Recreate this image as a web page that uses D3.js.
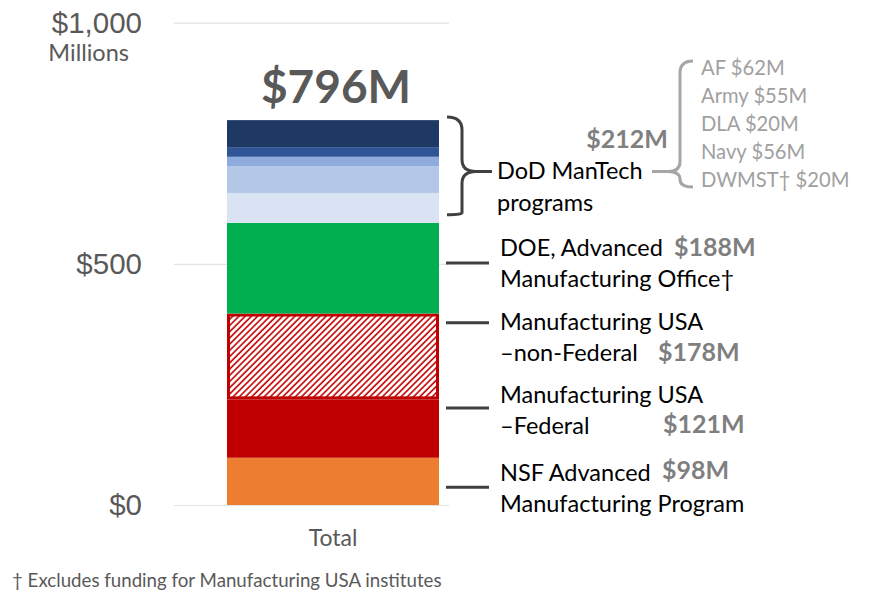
<!DOCTYPE html>
<html>
<head>
<meta charset="utf-8">
<script src="https://cdn.jsdelivr.net/npm/d3@7"></script>
<style>
  body { margin: 0; background: #fff; }
  svg { font-family: Lato, "Open Sans", sans-serif; }
</style>
</head>
<body>
<svg id="chart" width="872" height="606"></svg>
<script>
// data, bottom to top of the stack
const categories = ['Total'];
const segNames = ['NSF', 'MfgUSA Federal', 'MfgUSA non-Federal', 'DOE AMO', 'AF', 'Army', 'DLA', 'DWMST', 'Navy'];
const segValues = [98, 121, 178, 188, 62, 55, 20, 20, 56];
const segColors = ['#ed7d31', '#c00000', 'hatch', '#00b050', '#dae3f3', '#b4c7e7', '#8faadc', '#2f5597', '#203864'];
const yTicks = [0, 500, 1000];
const totalLabel = '$796M';

// DoD sub-programs as listed on the right
const dodItems = ['AF $62M', 'Army $55M', 'DLA $20M', 'Navy $56M', 'DWMST\u2020 $20M'];
const dodTotal = '$212M';

// main group labels: leader level (in $M), text lines, value text
const groups = [
  { at: 37, lines: ['NSF Advanced', 'Manufacturing Program'], value: '$98M', vx: 662, vline: 0, off: -14, voff: -3 },
  { at: 201, lines: ['Manufacturing USA', '\u2013Federal'], value: '$121M', vx: 663, vline: 1, off: -13, voff: -2 },
  { at: 378, lines: ['Manufacturing USA', '\u2013non-Federal'], value: '$178M', vx: 658, vline: 1, off: -1, voff: 0 },
  { at: 502, lines: ['DOE, Advanced', 'Manufacturing Office\u2020'], value: '$188M', vx: 674, vline: 0, off: -15, voff: -1 }
];

const svg = d3.select('#chart');

const y = d3.scaleLinear().domain([0, 1000]).range([505, 22.7]);
const x = d3.scaleBand().domain(categories).range([227, 439]).padding(0);

// hatch pattern for the non-Federal share
const defs = svg.append('defs');
defs.append('pattern')
  .attr('id', 'hatch')
  .attr('patternUnits', 'userSpaceOnUse')
  .attr('width', 4.4)
  .attr('height', 4.4)
  .attr('patternTransform', 'rotate(45)')
  .call(p => {
    p.append('rect').attr('width', 4.4).attr('height', 4.4).attr('fill', '#fff');
    p.append('line').attr('x1', 1).attr('x2', 1).attr('y1', 0).attr('y2', 4.4)
      .attr('stroke', '#c00000').attr('stroke-width', 1.6);
  });

// axis with gridlines
const axis = svg.append('g')
  .attr('transform', 'translate(174,0)')
  .call(d3.axisLeft(y).tickValues(yTicks).tickSize(-275).tickPadding(32)
    .tickFormat(d => '$' + d3.format(',')(d)));
axis.select('.domain').remove();
axis.selectAll('.tick line').attr('stroke', '#e3e3e3').attr('stroke-width', 1.2);
axis.selectAll('.tick text').attr('fill', '#595959').attr('font-size', 29.5).attr('dy', '0.33em');

svg.append('text')
  .attr('x', 129).attr('y', 61)
  .attr('text-anchor', 'end')
  .attr('fill', '#595959').attr('font-size', 23.5)
  .text('Millions');

// stacked segments
let acc = 0;
const stack = segValues.map((v, i) => {
  const s = { name: segNames[i], y0: acc, y1: acc + v, color: segColors[i] };
  acc += v;
  return s;
});

svg.append('g').selectAll('rect')
  .data(stack)
  .join('rect')
  .attr('x', d => d.color === 'hatch' ? x('Total') + 1.5 : x('Total'))
  .attr('width', d => d.color === 'hatch' ? x.bandwidth() - 3 : x.bandwidth())
  .attr('y', d => d.color === 'hatch' ? y(d.y1) + 1.5 : y(d.y1))
  .attr('height', d => (y(d.y0) - y(d.y1)) - (d.color === 'hatch' ? 3 : 0))
  .attr('fill', d => d.color === 'hatch' ? 'url(#hatch)' : d.color)
  .attr('stroke', d => d.color === 'hatch' ? '#c00000' : 'none')
  .attr('stroke-width', 3);

svg.append('text')
  .attr('x', x('Total') + x.bandwidth() / 2)
  .attr('y', 538)
  .attr('dy', '0.35em')
  .attr('text-anchor', 'middle')
  .attr('fill', '#595959').attr('font-size', 23)
  .text(categories[0]);

svg.append('text')
  .attr('x', x('Total') + x.bandwidth() / 2 + 3)
  .attr('y', y(acc) - 17)
  .attr('text-anchor', 'middle')
  .attr('fill', '#595959').attr('font-size', 46).attr('font-weight', 'bold')
  .text(totalLabel);

// group labels with leader lines
const lab = svg.append('g');
groups.forEach(g => {
  const ly = y(g.at);
  lab.append('line')
    .attr('x1', 446).attr('x2', 489).attr('y1', ly).attr('y2', ly)
    .attr('stroke', '#404040').attr('stroke-width', 3);
  const t0 = ly + g.off;
  g.lines.forEach((s, i) => {
    lab.append('text')
      .attr('x', 500).attr('y', t0 + i * 31)
      .attr('dy', '0.35em')
      .attr('fill', '#000').attr('font-size', 23.5)
      .text(s);
  });
  lab.append('text')
    .attr('x', g.vx).attr('y', t0 + g.vline * 31 + g.voff)
    .attr('dy', '0.35em')
    .attr('fill', '#7f7f7f').attr('font-size', 25).attr('font-weight', 'bold')
    .text(g.value);
});

// DoD ManTech brace and breakdown
const dodTop = y(acc), dodBot = y(acc - 213);
const mid = (dodTop + dodBot) / 2;
svg.append('path')
  .attr('d', `M447,${dodTop - 3} Q462,${dodTop - 3} 462,${dodTop + 10} L462,${mid - 12} Q462,${mid} 476,${mid} L492,${mid}
    M476,${mid} Q462,${mid} 462,${mid + 12} L462,${dodBot - 10} Q462,${dodBot - 8} 447,${dodBot - 8}`)
  .attr('fill', 'none').attr('stroke', '#404040').attr('stroke-width', 3);

svg.append('text').attr('x', 497).attr('y', mid - 1).attr('dy', '0.35em')
  .attr('fill', '#000').attr('font-size', 23.5).text('DoD ManTech');
svg.append('text').attr('x', 497).attr('y', mid + 31).attr('dy', '0.35em')
  .attr('fill', '#000').attr('font-size', 23.5).text('programs');

svg.append('text').attr('x', 668).attr('y', 139).attr('dy', '0.35em')
  .attr('text-anchor', 'end')
  .attr('fill', '#808080').attr('font-size', 25).attr('font-weight', 'bold')
  .text(dodTotal);

svg.append('path')
  .attr('d', `M693,61 Q680,61 680,73 L680,${mid - 10} Q680,${mid} 668,${mid} L652,${mid}
    M668,${mid} Q680,${mid} 680,${mid + 8} Q680,187 693,187`)
  .attr('fill', 'none').attr('stroke', '#a6a6a6').attr('stroke-width', 3);

svg.append('g').selectAll('text')
  .data(dodItems)
  .join('text')
  .attr('x', 701)
  .attr('y', (d, i) => 68 + i * 28)
  .attr('dy', '0.35em')
  .attr('fill', '#a0a0a0').attr('font-size', 20.2)
  .text(d => d);

svg.append('text')
  .attr('x', 12).attr('y', 580)
  .attr('dy', '0.35em')
  .attr('fill', '#595959').attr('font-size', 18.7)
  .text('\u2020 Excludes funding for Manufacturing USA institutes');
</script>
</body>
</html>
